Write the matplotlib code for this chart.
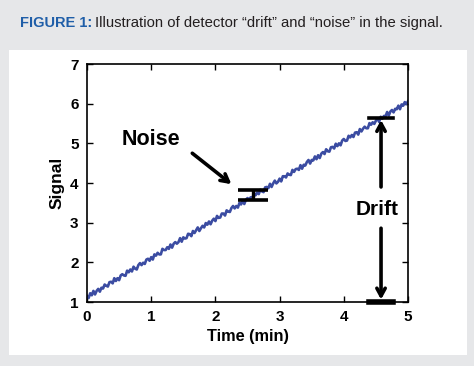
import numpy as np
import matplotlib.pyplot as plt
from matplotlib.patches import Rectangle

signal = [1.15, 1.10, 1.22, 1.17, 1.28, 1.19, 1.28, 1.33, 1.26, 1.36,
          1.34, 1.44, 1.41, 1.39, 1.50, 1.51, 1.47, 1.60, 1.53, 1.60,
          1.55, 1.67, 1.70, 1.67, 1.66, 1.79, 1.75, 1.82, 1.77, 1.89,
          1.84, 1.82, 1.93, 1.98, 1.93, 1.99, 1.96, 2.07, 2.09, 2.04,
          2.13, 2.07, 2.20, 2.17, 2.24, 2.20, 2.20, 2.34, 2.31, 2.31,
          2.38, 2.34, 2.45, 2.37, 2.47, 2.51, 2.47, 2.51, 2.61, 2.52,
          2.63, 2.60, 2.61, 2.72, 2.71, 2.66, 2.79, 2.74, 2.81, 2.88,
          2.79, 2.86, 2.92, 2.88, 2.99, 2.95, 3.03, 2.96, 3.05, 3.10,
          3.04, 3.17, 3.12, 3.13, 3.23, 3.23, 3.18, 3.31, 3.28, 3.27,
          3.37, 3.42, 3.36, 3.42, 3.38, 3.50, 3.46, 3.56, 3.47, 3.58,
          3.62, 3.58, 3.64, 3.61, 3.74, 3.69, 3.76, 3.72, 3.83, 3.79,
          3.77, 3.89, 3.90, 3.87, 3.98, 3.90, 3.99, 4.06, 3.99, 4.03,
          4.11, 4.04, 4.17, 4.17, 4.14, 4.24, 4.21, 4.20, 4.33, 4.28,
          4.35, 4.36, 4.33, 4.45, 4.36, 4.46, 4.44, 4.53, 4.58, 4.49,
          4.58, 4.57, 4.67, 4.60, 4.70, 4.63, 4.74, 4.78, 4.73, 4.85,
          4.80, 4.79, 4.90, 4.91, 4.87, 4.99, 4.93, 5.00, 4.95, 5.07,
          5.11, 5.06, 5.07, 5.19, 5.15, 5.21, 5.16, 5.27, 5.28, 5.22,
          5.36, 5.30, 5.37, 5.42, 5.38, 5.38, 5.51, 5.47, 5.53, 5.49,
          5.57, 5.63, 5.54, 5.67, 5.62, 5.69, 5.68, 5.79, 5.70, 5.80,
          5.84, 5.78, 5.87, 5.86, 5.95, 5.86, 5.98, 5.95, 6.04, 5.99,
          6.06]
time = np.linspace(0, 5, len(signal))

# annotation values
noise_t = 2.59
noise_lo, noise_hi = 3.57, 3.82
drift_t = 4.58
drift_lo, drift_hi = 1.0, 5.63

fig = plt.figure(figsize=(4.74, 3.66), dpi=100, facecolor='#e6e7e9')
fig.patches.append(Rectangle((9 / 474, 1 - 355 / 366), 458 / 474, 305 / 366,
                             transform=fig.transFigure, facecolor='white',
                             edgecolor='none', zorder=-5))
fig.text(20 / 474, 1 - 27 / 366, 'FIGURE 1:', color='#1f5ea8', fontsize=10.5,
         fontweight='bold', family='Liberation Sans', va='baseline')
fig.text(95 / 474, 1 - 27 / 366, 'Illustration of detector \u201cdrift\u201d and \u201cnoise\u201d in the signal.',
         color='#231f20', fontsize=10.7, family='Liberation Sans', va='baseline')

ax = fig.add_axes([87 / 474, 1 - 302 / 366, 321 / 474, 238 / 366])
ax.set_zorder(2)
ax.plot(time, signal, color='#3b4ca2', lw=1.9)

arrow = dict(arrowstyle='->,head_length=0.55,head_width=0.3', color='black', lw=2.6,
             shrinkA=0, shrinkB=0)

# noise bar
ax.errorbar([noise_t], [(noise_lo + noise_hi) / 2], yerr=[[(noise_hi - noise_lo) / 2]],
            fmt='none', ecolor='black', elinewidth=2.4, capsize=11, capthick=2.6)
ax.annotate('', xy=(2.25, 3.97), xytext=(1.64, 4.75), arrowprops=arrow)
ax.text(0.99, 5.1, 'Noise', fontsize=15.5, fontweight='bold', ha='center', va='center',
        family='Liberation Sans')

# drift bar
ax.plot([drift_t - 0.19, drift_t + 0.19], [drift_hi, drift_hi], color='black', lw=2.6)
ax.plot([drift_t - 0.19, drift_t + 0.19], [drift_lo, drift_lo], color='black', lw=4,
        clip_on=False)
ax.annotate('', xy=(drift_t, drift_hi - 0.04), xytext=(drift_t, 3.9), arrowprops=arrow)
ax.annotate('', xy=(drift_t, drift_lo + 0.06), xytext=(drift_t, 2.86), arrowprops=arrow)
ax.text(4.52, 3.32, 'Drift', fontsize=15, fontweight='bold', ha='center', va='center',
        family='Liberation Sans')

ax.set_xlim(0, 5)
ax.set_ylim(1, 7)
ax.set_xticks([0, 1, 2, 3, 4, 5])
ax.set_yticks([1, 2, 3, 4, 5, 6, 7])
ax.tick_params(direction='in', top=True, right=True, length=4, width=1,
               labelsize=11, pad=6)
for lab in ax.get_xticklabels() + ax.get_yticklabels():
    lab.set_fontweight('bold')
    lab.set_family('Liberation Sans')
for s in ax.spines.values():
    s.set_linewidth(1.2)
ax.set_xlabel('Time (min)', fontsize=11.7, fontweight='bold', family='Liberation Sans', labelpad=3)
ax.set_ylabel('Signal', fontsize=12.5, fontweight='bold', family='Liberation Sans', labelpad=4)

fig.savefig('out.png', dpi=100, facecolor=fig.get_facecolor())
